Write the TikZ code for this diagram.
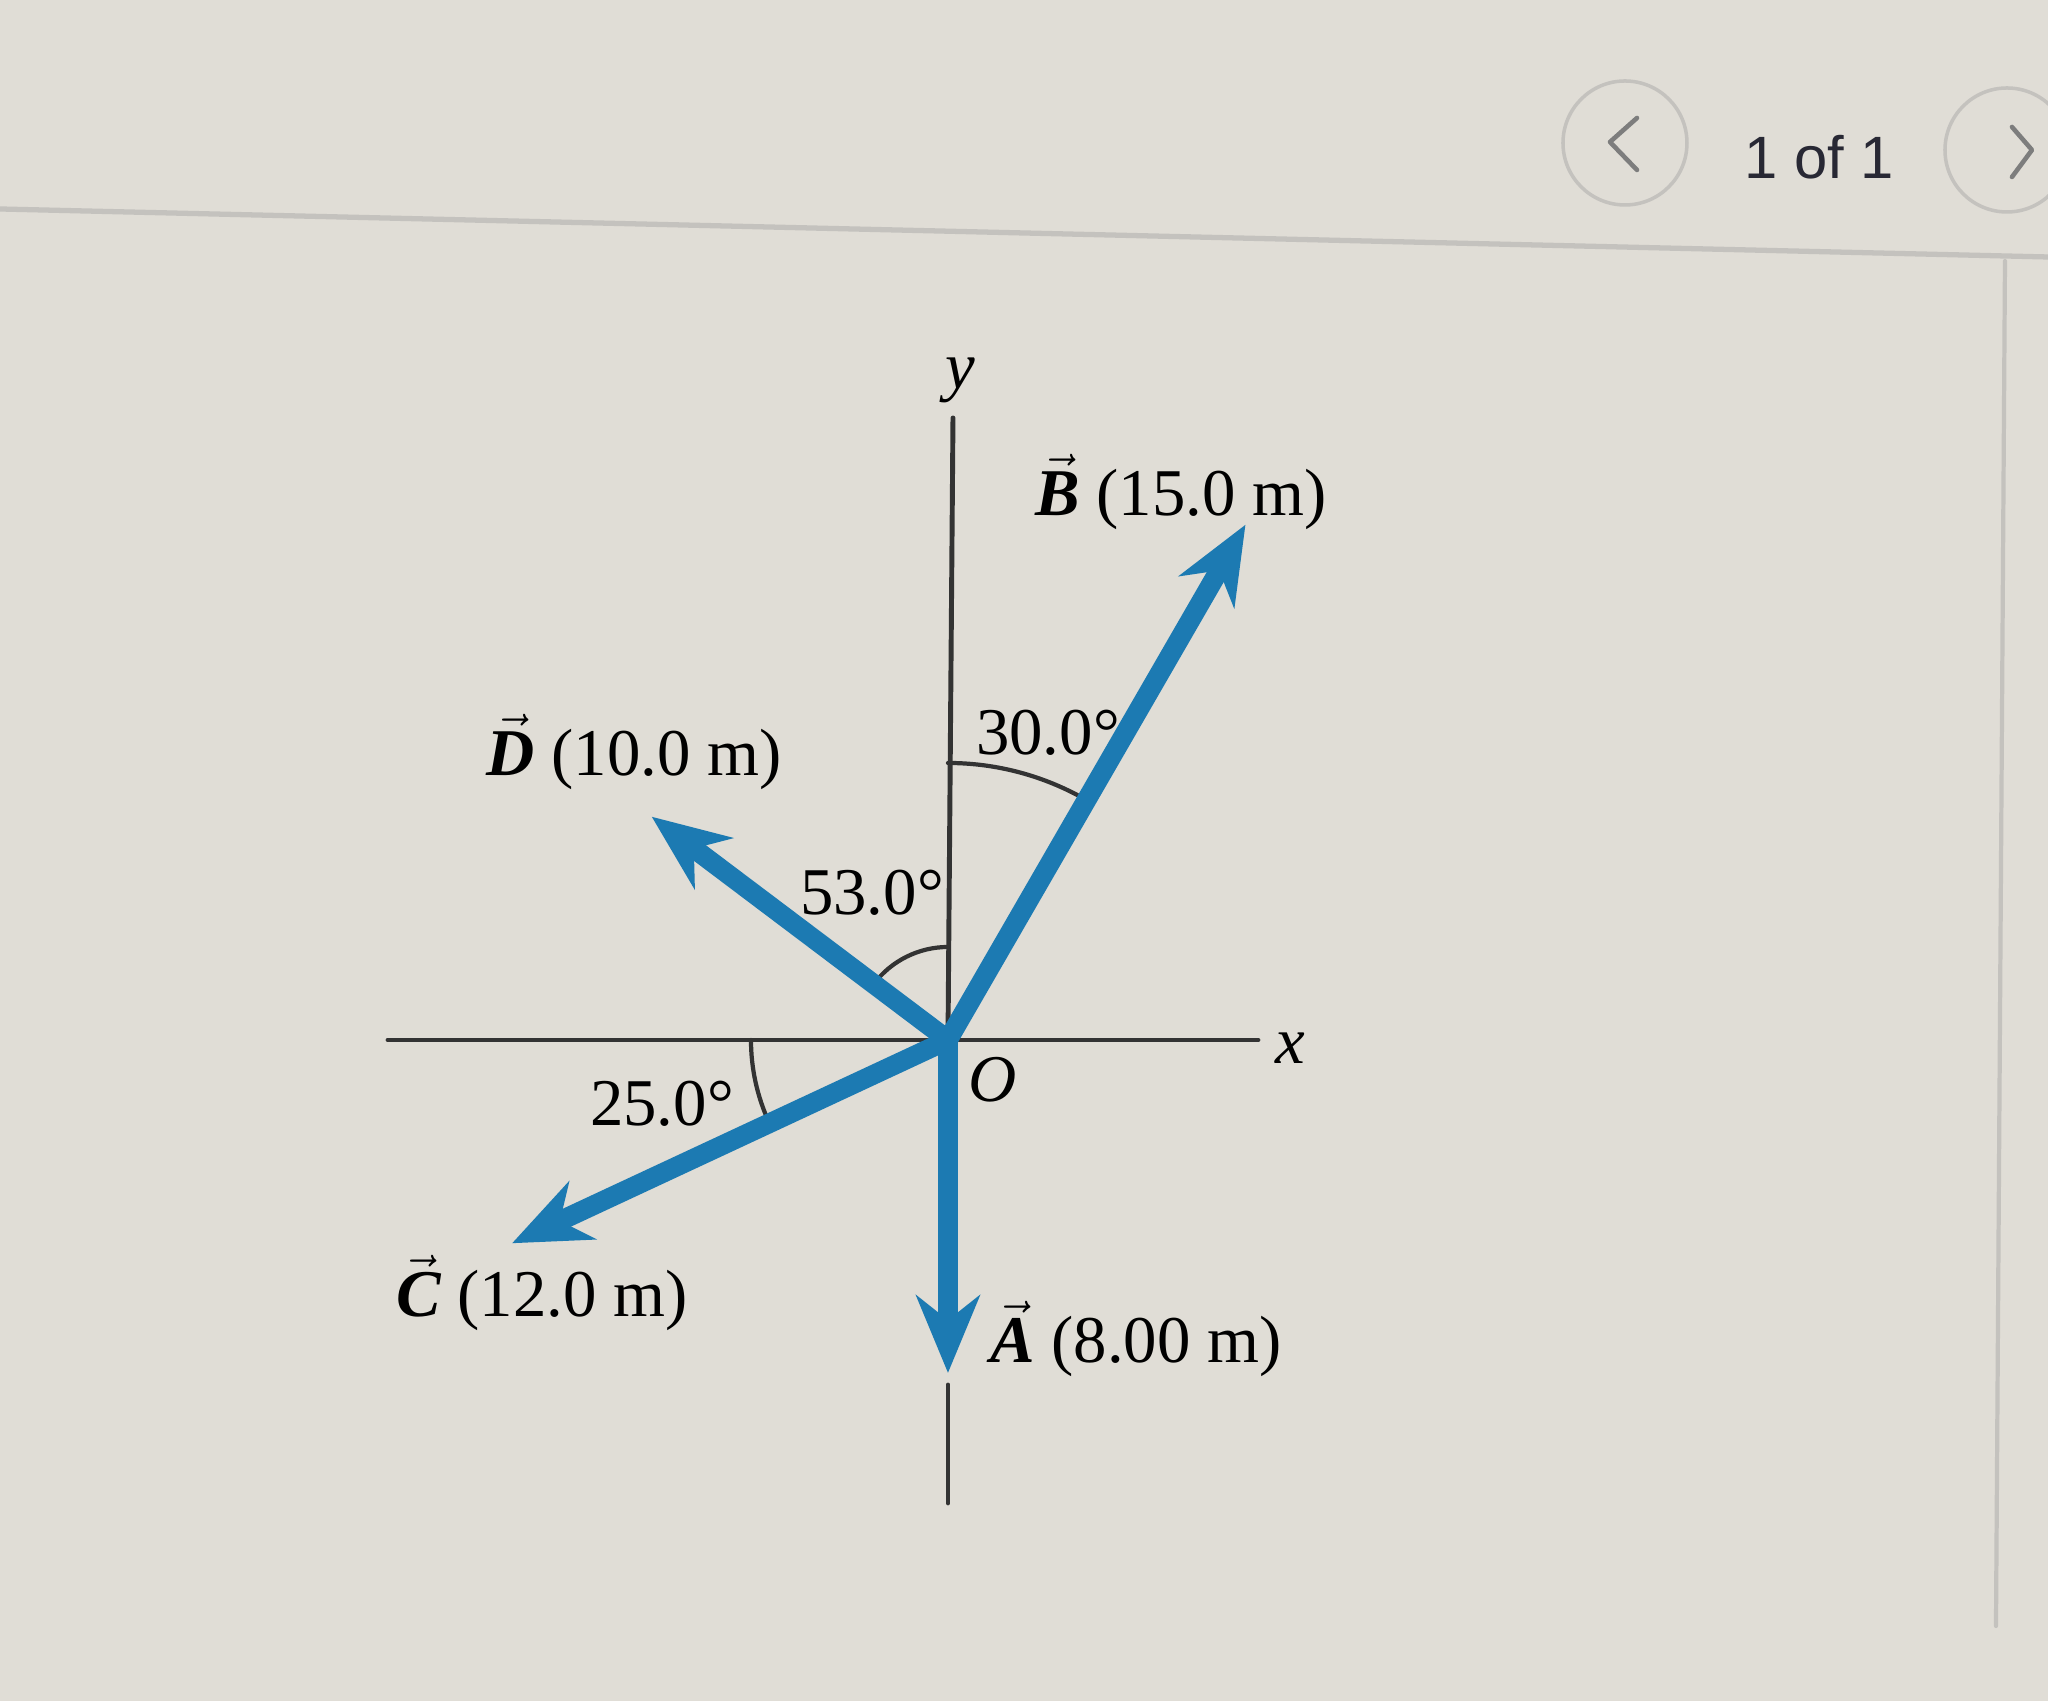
\documentclass[tikz,border=0pt]{standalone}
\usepackage{fontspec}
\setmainfont{Liberation Serif}
\setsansfont{Liberation Sans}
\usetikzlibrary{arrows.meta}
\definecolor{vecblue}{RGB}{28,122,178}
\definecolor{paper}{RGB}{224,221,214}
\definecolor{navgray}{RGB}{196,194,190}
\definecolor{chevgray}{RGB}{125,125,125}
\newcommand{\vlab}[1]{$\vec{\mbox{\bfseries\itshape #1}}$}

\begin{document}
\begin{tikzpicture}[line cap=round, line join=round, font=\fontsize{19}{22}\selectfont, >={Stealth[length=22pt,width=18pt,inset=7pt]}]
	\tikzset{vector/.style={->, draw=vecblue, line width=5.6pt, line cap=butt},
		axis/.style={line width=1.4pt, draw=black!80},
		anglearc/.style={line width=1.2pt, draw=black!80},
		label style/.style={inner sep=1pt}}
	\fill[paper] (-9.48,-6.61) rectangle (11.00,10.40);
	\useasboundingbox (-9.48,-6.61) rectangle (11.00,10.40);
	% page header
	\draw[navgray, line width=1.5pt] (-9.48,8.31) -- (11.00,7.83);
	\draw[navgray, line width=1.2pt] (10.57,7.79) -- (10.48,-5.86);
	\node[draw=navgray, line width=1pt, circle, minimum size=1.24cm] (prev) at (6.77,8.97) {};
	\node[draw=navgray, line width=1pt, circle, minimum size=1.24cm] (next) at (10.59,8.90) {};
	\draw[chevgray, line width=1.3pt] (6.89,9.22) -- (6.62,8.98) -- (6.89,8.70);
	\draw[chevgray, line width=1.3pt] (10.64,9.13) -- (10.84,8.90) -- (10.64,8.63);
	\node[font=\sffamily\fontsize{17}{20}\selectfont, text={rgb,255:red,40;green,40;blue,52}] (page) at (8.71,8.83) {1 of 1};
	% axes
	\coordinate (O) at (0,0);
	\coordinate (xleft) at (-5.60,0);
	\coordinate (xright) at (3.10,0);
	\coordinate (ytop) at (0.05,6.22);
	\coordinate (ybot) at (0,-4.63);
	\coordinate (ygap) at (0,-3.45);
	\draw[axis] (xleft) -- (xright);
	\draw[axis] (O) -- (ytop);
	\draw[axis] (ygap) -- (ybot);
	\node[label style] (xlab) at (3.42,-0.08) {\textit{x}};
	\node[label style] (ylab) at (0.12,6.60) {\textit{y}};
	\node[label style] (olab) at (0.45,-0.40) {\textit{O}};
	% angles
	\draw[anglearc] (90:2.77) arc[start angle=90, end angle=60, radius=2.77];
	\draw[anglearc] (90:0.93) arc[start angle=90, end angle=143, radius=0.93];
	\draw[anglearc] (180:1.97) arc[start angle=180, end angle=205, radius=1.97];
	\node[label style] (a30) at (1.00,3.07) {30.0°};
	\node[label style] (a53) at (-0.76,1.47) {53.0°};
	\node[label style] (a25) at (-2.86,-0.64) {25.0°};
	% vectors
	\coordinate (Atip) at (270:3.33);
	\coordinate (Btip) at (60:5.95);
	\coordinate (Ctip) at (205:4.81);
	\coordinate (Dtip) at (143:3.71);
	\draw[vector] (O) -- (Atip);
	\draw[vector] (O) -- (Btip);
	\draw[vector] (O) -- (Ctip);
	\draw[vector] (O) -- (Dtip);
	\node[label style] (Alab) at (1.88,-2.99) {\vlab{A} (8.00 m)};
	\node[label style] (Blab) at (2.33,5.48) {\vlab{B} (15.0 m)};
	\node[label style] (Clab) at (-4.06,-2.53) {\vlab{C} (12.0 m)};
	\node[label style] (Dlab) at (-3.14,2.88) {\vlab{D} (10.0 m)};
\end{tikzpicture}
\end{document}
